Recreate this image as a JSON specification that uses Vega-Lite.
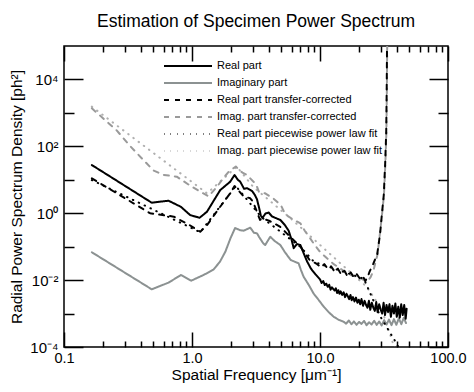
{
  "$schema": "https://vega.github.io/schema/vega-lite/v6.json",
  "width": 384,
  "height": 301,
  "autosize": "none",
  "padding": {"left": 64, "top": 46, "right": 26, "bottom": 45},
  "background": "white",
  "title": {"text": "Estimation of Specimen Power Spectrum", "fontSize": 17.5, "fontWeight": "normal", "color": "#000", "anchor": "middle", "frame": "group", "baseline": "alphabetic", "offset": -1},
  "config": {
    "font": "Liberation Sans",
    "view": {"stroke": "#000", "strokeWidth": 1.5},
    "axis": {"grid": false, "domain": false, "tickColor": "#000", "tickWidth": 1.5, "labelColor": "#000", "titleColor": "#000", "titleFontWeight": "normal", "labelFlush": false, "labelOverlap": false}
  },
  "data": {"values": [
    {"series": "Imag. part piecewise power law fit", "freq": 0.165, "psd": 1535},
    {"series": "Imag. part piecewise power law fit", "freq": 1.31, "psd": 3.94},
    {"series": "Imag. part piecewise power law fit", "freq": 2.24, "psd": 24.6},
    {"series": "Imag. part piecewise power law fit", "freq": 3.0, "psd": 6.2},
    {"series": "Imag. part piecewise power law fit", "freq": 5.9, "psd": 0.7},
    {"series": "Imag. part piecewise power law fit", "freq": 14.4, "psd": 0.032},
    {"series": "Imag. part piecewise power law fit", "freq": 23.2, "psd": 0.0063},
    {"series": "Imag. part piecewise power law fit", "freq": 30.5, "psd": 0.0013},
    {"series": "Imag. part piecewise power law fit", "freq": 38, "psd": 0.0001},
    {"series": "Imag. part piecewise power law fit", "freq": 48, "psd": 0.00001},

    {"series": "Imag. part transfer-corrected", "freq": 0.165, "psd": 1370},
    {"series": "Imag. part transfer-corrected", "freq": 0.258, "psd": 300},
    {"series": "Imag. part transfer-corrected", "freq": 0.33, "psd": 100},
    {"series": "Imag. part transfer-corrected", "freq": 0.42, "psd": 38},
    {"series": "Imag. part transfer-corrected", "freq": 0.5, "psd": 19},
    {"series": "Imag. part transfer-corrected", "freq": 0.6, "psd": 14},
    {"series": "Imag. part transfer-corrected", "freq": 0.76, "psd": 12.4},
    {"series": "Imag. part transfer-corrected", "freq": 0.95, "psd": 7},
    {"series": "Imag. part transfer-corrected", "freq": 1.16, "psd": 4.4},
    {"series": "Imag. part transfer-corrected", "freq": 1.35, "psd": 3.2},
    {"series": "Imag. part transfer-corrected", "freq": 1.57, "psd": 6.2},
    {"series": "Imag. part transfer-corrected", "freq": 1.75, "psd": 11},
    {"series": "Imag. part transfer-corrected", "freq": 1.94, "psd": 17.5},
    {"series": "Imag. part transfer-corrected", "freq": 2.2, "psd": 25},
    {"series": "Imag. part transfer-corrected", "freq": 2.35, "psd": 19},
    {"series": "Imag. part transfer-corrected", "freq": 2.5, "psd": 16},
    {"series": "Imag. part transfer-corrected", "freq": 2.69, "psd": 13.9},
    {"series": "Imag. part transfer-corrected", "freq": 2.85, "psd": 11},
    {"series": "Imag. part transfer-corrected", "freq": 3.05, "psd": 8.5},
    {"series": "Imag. part transfer-corrected", "freq": 3.22, "psd": 6.2},
    {"series": "Imag. part transfer-corrected", "freq": 3.33, "psd": 4.4},
    {"series": "Imag. part transfer-corrected", "freq": 3.55, "psd": 4.0},
    {"series": "Imag. part transfer-corrected", "freq": 3.73, "psd": 3.94},
    {"series": "Imag. part transfer-corrected", "freq": 4.0, "psd": 3.3},
    {"series": "Imag. part transfer-corrected", "freq": 4.3, "psd": 2.8},
    {"series": "Imag. part transfer-corrected", "freq": 4.62, "psd": 2.2},
    {"series": "Imag. part transfer-corrected", "freq": 5.0, "psd": 1.6},
    {"series": "Imag. part transfer-corrected", "freq": 5.3, "psd": 1.0},
    {"series": "Imag. part transfer-corrected", "freq": 5.69, "psd": 0.79},
    {"series": "Imag. part transfer-corrected", "freq": 6.3, "psd": 0.62},
    {"series": "Imag. part transfer-corrected", "freq": 7.03, "psd": 0.5},
    {"series": "Imag. part transfer-corrected", "freq": 7.6, "psd": 0.3},
    {"series": "Imag. part transfer-corrected", "freq": 8.2, "psd": 0.2},
    {"series": "Imag. part transfer-corrected", "freq": 8.9, "psd": 0.126},
    {"series": "Imag. part transfer-corrected", "freq": 10, "psd": 0.07},
    {"series": "Imag. part transfer-corrected", "freq": 11.4, "psd": 0.044},
    {"series": "Imag. part transfer-corrected", "freq": 12.8, "psd": 0.03},
    {"series": "Imag. part transfer-corrected", "freq": 14.4, "psd": 0.022},
    {"series": "Imag. part transfer-corrected", "freq": 16, "psd": 0.017},
    {"series": "Imag. part transfer-corrected", "freq": 17.5, "psd": 0.014},
    {"series": "Imag. part transfer-corrected", "freq": 19.4, "psd": 0.0126},
    {"series": "Imag. part transfer-corrected", "freq": 21, "psd": 0.011},
    {"series": "Imag. part transfer-corrected", "freq": 23.2, "psd": 0.0089},
    {"series": "Imag. part transfer-corrected", "freq": 24.8, "psd": 0.012},
    {"series": "Imag. part transfer-corrected", "freq": 26.2, "psd": 0.02},
    {"series": "Imag. part transfer-corrected", "freq": 28.2, "psd": 0.06},
    {"series": "Imag. part transfer-corrected", "freq": 30.6, "psd": 1.0},
    {"series": "Imag. part transfer-corrected", "freq": 31.6, "psd": 3.5},
    {"series": "Imag. part transfer-corrected", "freq": 32.4, "psd": 30},
    {"series": "Imag. part transfer-corrected", "freq": 33.0, "psd": 250},
    {"series": "Imag. part transfer-corrected", "freq": 33.3, "psd": 5000},
    {"series": "Imag. part transfer-corrected", "freq": 33.5, "psd": 100000},

    {"series": "Imaginary part", "freq": 0.165, "psd": 0.068},
    {"series": "Imaginary part", "freq": 0.485, "psd": 0.0053},
    {"series": "Imaginary part", "freq": 0.655, "psd": 0.0084},
    {"series": "Imaginary part", "freq": 0.82, "psd": 0.0142},
    {"series": "Imaginary part", "freq": 0.986, "psd": 0.0096},
    {"series": "Imaginary part", "freq": 1.23, "psd": 0.0142},
    {"series": "Imaginary part", "freq": 1.47, "psd": 0.0206},
    {"series": "Imaginary part", "freq": 1.65, "psd": 0.035},
    {"series": "Imaginary part", "freq": 1.82, "psd": 0.07},
    {"series": "Imaginary part", "freq": 2.0, "psd": 0.18},
    {"series": "Imaginary part", "freq": 2.17, "psd": 0.36},
    {"series": "Imaginary part", "freq": 2.38, "psd": 0.31},
    {"series": "Imaginary part", "freq": 2.53, "psd": 0.30},
    {"series": "Imaginary part", "freq": 2.85, "psd": 0.37},
    {"series": "Imaginary part", "freq": 3.05, "psd": 0.26},
    {"series": "Imaginary part", "freq": 3.22, "psd": 0.25},
    {"series": "Imaginary part", "freq": 3.33, "psd": 0.2},
    {"series": "Imaginary part", "freq": 3.6, "psd": 0.126},
    {"series": "Imaginary part", "freq": 3.73, "psd": 0.112},
    {"series": "Imaginary part", "freq": 4.09, "psd": 0.198},
    {"series": "Imaginary part", "freq": 4.4, "psd": 0.15},
    {"series": "Imaginary part", "freq": 4.9, "psd": 0.112},
    {"series": "Imaginary part", "freq": 5.3, "psd": 0.07},
    {"series": "Imaginary part", "freq": 5.9, "psd": 0.04},
    {"series": "Imaginary part", "freq": 6.4, "psd": 0.035},
    {"series": "Imaginary part", "freq": 6.8, "psd": 0.032},
    {"series": "Imaginary part", "freq": 7.1, "psd": 0.02},
    {"series": "Imaginary part", "freq": 7.45, "psd": 0.0126},
    {"series": "Imaginary part", "freq": 8.2, "psd": 0.007},
    {"series": "Imaginary part", "freq": 8.9, "psd": 0.004},
    {"series": "Imaginary part", "freq": 9.8, "psd": 0.0025},
    {"series": "Imaginary part", "freq": 10.7, "psd": 0.0016},
    {"series": "Imaginary part", "freq": 11.7, "psd": 0.0011},
    {"series": "Imaginary part", "freq": 12.8, "psd": 0.0008},
    {"series": "Imaginary part", "freq": 14, "psd": 0.00065},
    {"series": "Imaginary part", "freq": 15.3, "psd": 0.00057},
    {"series": "Imaginary part", "freq": 16.0, "psd": 0.0005},
    {"series": "Imaginary part", "freq": 16.8, "psd": 0.00062},
    {"series": "Imaginary part", "freq": 17.6, "psd": 0.00048},
    {"series": "Imaginary part", "freq": 18.4, "psd": 0.00058},
    {"series": "Imaginary part", "freq": 19.3, "psd": 0.00046},
    {"series": "Imaginary part", "freq": 20.2, "psd": 0.00056},
    {"series": "Imaginary part", "freq": 21.1, "psd": 0.00049},
    {"series": "Imaginary part", "freq": 22.1, "psd": 0.0006},
    {"series": "Imaginary part", "freq": 23.1, "psd": 0.00045},
    {"series": "Imaginary part", "freq": 24.2, "psd": 0.00055},
    {"series": "Imaginary part", "freq": 25.3, "psd": 0.00047},
    {"series": "Imaginary part", "freq": 26.5, "psd": 0.00061},
    {"series": "Imaginary part", "freq": 27.7, "psd": 0.00046},
    {"series": "Imaginary part", "freq": 29.0, "psd": 0.00058},
    {"series": "Imaginary part", "freq": 30.3, "psd": 0.00044},
    {"series": "Imaginary part", "freq": 31.7, "psd": 0.00063},
    {"series": "Imaginary part", "freq": 33.1, "psd": 0.00047},
    {"series": "Imaginary part", "freq": 34.6, "psd": 0.00066},
    {"series": "Imaginary part", "freq": 36.2, "psd": 0.00045},
    {"series": "Imaginary part", "freq": 37.8, "psd": 0.00068},
    {"series": "Imaginary part", "freq": 39.5, "psd": 0.00046},
    {"series": "Imaginary part", "freq": 41.3, "psd": 0.00072},
    {"series": "Imaginary part", "freq": 43.2, "psd": 0.00048},
    {"series": "Imaginary part", "freq": 45.1, "psd": 0.00075},
    {"series": "Imaginary part", "freq": 47.0, "psd": 0.00052},

    {"series": "Real part piecewise power law fit", "freq": 0.165, "psd": 9.8},
    {"series": "Real part piecewise power law fit", "freq": 1.16, "psd": 0.27},
    {"series": "Real part piecewise power law fit", "freq": 2.2, "psd": 6.5},
    {"series": "Real part piecewise power law fit", "freq": 3.5, "psd": 0.75},
    {"series": "Real part piecewise power law fit", "freq": 7.0, "psd": 0.1},
    {"series": "Real part piecewise power law fit", "freq": 9.0, "psd": 0.035},
    {"series": "Real part piecewise power law fit", "freq": 22, "psd": 0.011},
    {"series": "Real part piecewise power law fit", "freq": 29.7, "psd": 0.0008},
    {"series": "Real part piecewise power law fit", "freq": 40, "psd": 0.00012},
    {"series": "Real part piecewise power law fit", "freq": 50, "psd": 0.00002},

    {"series": "Real part transfer-corrected", "freq": 0.165, "psd": 11},
    {"series": "Real part transfer-corrected", "freq": 0.47, "psd": 1.0},
    {"series": "Real part transfer-corrected", "freq": 0.72, "psd": 0.79},
    {"series": "Real part transfer-corrected", "freq": 0.95, "psd": 0.45},
    {"series": "Real part transfer-corrected", "freq": 1.16, "psd": 0.28},
    {"series": "Real part transfer-corrected", "freq": 1.31, "psd": 0.44},
    {"series": "Real part transfer-corrected", "freq": 1.66, "psd": 1.56},
    {"series": "Real part transfer-corrected", "freq": 1.99, "psd": 3.94},
    {"series": "Real part transfer-corrected", "freq": 2.15, "psd": 6.5},
    {"series": "Real part transfer-corrected", "freq": 2.53, "psd": 3.2},
    {"series": "Real part transfer-corrected", "freq": 2.85, "psd": 2.8},
    {"series": "Real part transfer-corrected", "freq": 3.0, "psd": 2.2},
    {"series": "Real part transfer-corrected", "freq": 3.4, "psd": 0.63},
    {"series": "Real part transfer-corrected", "freq": 3.52, "psd": 0.7},
    {"series": "Real part transfer-corrected", "freq": 4.0, "psd": 0.6},
    {"series": "Real part transfer-corrected", "freq": 4.9, "psd": 0.39},
    {"series": "Real part transfer-corrected", "freq": 5.5, "psd": 0.25},
    {"series": "Real part transfer-corrected", "freq": 6.23, "psd": 0.157},
    {"series": "Real part transfer-corrected", "freq": 7.03, "psd": 0.1},
    {"series": "Real part transfer-corrected", "freq": 8.3, "psd": 0.04},
    {"series": "Real part transfer-corrected", "freq": 9.5, "psd": 0.03},
    {"series": "Real part transfer-corrected", "freq": 10.2, "psd": 0.024},
    {"series": "Real part transfer-corrected", "freq": 10.8, "psd": 0.03},
    {"series": "Real part transfer-corrected", "freq": 11.5, "psd": 0.022},
    {"series": "Real part transfer-corrected", "freq": 12.2, "psd": 0.026},
    {"series": "Real part transfer-corrected", "freq": 13, "psd": 0.018},
    {"series": "Real part transfer-corrected", "freq": 13.8, "psd": 0.022},
    {"series": "Real part transfer-corrected", "freq": 14.6, "psd": 0.015},
    {"series": "Real part transfer-corrected", "freq": 15.5, "psd": 0.019},
    {"series": "Real part transfer-corrected", "freq": 16.4, "psd": 0.013},
    {"series": "Real part transfer-corrected", "freq": 17.4, "psd": 0.017},
    {"series": "Real part transfer-corrected", "freq": 18.4, "psd": 0.012},
    {"series": "Real part transfer-corrected", "freq": 19.4, "psd": 0.015},
    {"series": "Real part transfer-corrected", "freq": 20.5, "psd": 0.011},
    {"series": "Real part transfer-corrected", "freq": 21.6, "psd": 0.013},
    {"series": "Real part transfer-corrected", "freq": 22.6, "psd": 0.0095},
    {"series": "Real part transfer-corrected", "freq": 23.5, "psd": 0.012},
    {"series": "Real part transfer-corrected", "freq": 24.4, "psd": 0.018},
    {"series": "Real part transfer-corrected", "freq": 26, "psd": 0.03},
    {"series": "Real part transfer-corrected", "freq": 28, "psd": 0.06},
    {"series": "Real part transfer-corrected", "freq": 29.5, "psd": 0.25},
    {"series": "Real part transfer-corrected", "freq": 30.5, "psd": 1.0},
    {"series": "Real part transfer-corrected", "freq": 31.5, "psd": 3.5},
    {"series": "Real part transfer-corrected", "freq": 32.3, "psd": 30},
    {"series": "Real part transfer-corrected", "freq": 32.9, "psd": 250},
    {"series": "Real part transfer-corrected", "freq": 33.2, "psd": 5000},
    {"series": "Real part transfer-corrected", "freq": 33.4, "psd": 100000},

    {"series": "Real part", "freq": 0.165, "psd": 27.6},
    {"series": "Real part", "freq": 0.485, "psd": 2.06},
    {"series": "Real part", "freq": 0.655, "psd": 2.37},
    {"series": "Real part", "freq": 0.82, "psd": 1.55},
    {"series": "Real part", "freq": 0.968, "psd": 0.88},
    {"series": "Real part", "freq": 1.145, "psd": 0.73},
    {"series": "Real part", "freq": 1.31, "psd": 1.11},
    {"series": "Real part", "freq": 1.5, "psd": 2.6},
    {"series": "Real part", "freq": 1.66, "psd": 4.9},
    {"series": "Real part", "freq": 1.99, "psd": 8.8},
    {"series": "Real part", "freq": 2.15, "psd": 13.9},
    {"series": "Real part", "freq": 2.28, "psd": 10},
    {"series": "Real part", "freq": 2.38, "psd": 8.8},
    {"series": "Real part", "freq": 2.55, "psd": 5.4},
    {"series": "Real part", "freq": 2.69, "psd": 5.6},
    {"series": "Real part", "freq": 2.85, "psd": 5.0},
    {"series": "Real part", "freq": 2.95, "psd": 4.6},
    {"series": "Real part", "freq": 3.1, "psd": 3.5},
    {"series": "Real part", "freq": 3.22, "psd": 2.6},
    {"series": "Real part", "freq": 3.35, "psd": 1.4},
    {"series": "Real part", "freq": 3.45, "psd": 0.85},
    {"series": "Real part", "freq": 3.55, "psd": 0.72},
    {"series": "Real part", "freq": 3.75, "psd": 0.98},
    {"series": "Real part", "freq": 3.97, "psd": 1.05},
    {"series": "Real part", "freq": 4.22, "psd": 0.8},
    {"series": "Real part", "freq": 4.5, "psd": 0.72},
    {"series": "Real part", "freq": 4.9, "psd": 0.63},
    {"series": "Real part", "freq": 5.3, "psd": 0.45},
    {"series": "Real part", "freq": 5.69, "psd": 0.3},
    {"series": "Real part", "freq": 6.0, "psd": 0.16},
    {"series": "Real part", "freq": 6.23, "psd": 0.09},
    {"series": "Real part", "freq": 6.6, "psd": 0.12},
    {"series": "Real part", "freq": 7.03, "psd": 0.112},
    {"series": "Real part", "freq": 7.5, "psd": 0.06},
    {"series": "Real part", "freq": 7.93, "psd": 0.036},
    {"series": "Real part", "freq": 8.5, "psd": 0.022},
    {"series": "Real part", "freq": 9.2, "psd": 0.015},
    {"series": "Real part", "freq": 10.0, "psd": 0.0105},
    {"series": "Real part", "freq": 10.3, "psd": 0.0082},
    {"series": "Real part", "freq": 10.6, "psd": 0.0094},
    {"series": "Real part", "freq": 10.9, "psd": 0.0071},
    {"series": "Real part", "freq": 11.2, "psd": 0.0078},
    {"series": "Real part", "freq": 11.5, "psd": 0.0063},
    {"series": "Real part", "freq": 11.8, "psd": 0.0072},
    {"series": "Real part", "freq": 12.1, "psd": 0.0052},
    {"series": "Real part", "freq": 12.4, "psd": 0.0061},
    {"series": "Real part", "freq": 12.7, "psd": 0.0054},
    {"series": "Real part", "freq": 13.0, "psd": 0.0049},
    {"series": "Real part", "freq": 13.3, "psd": 0.0057},
    {"series": "Real part", "freq": 13.6, "psd": 0.0041},
    {"series": "Real part", "freq": 13.9, "psd": 0.005},
    {"series": "Real part", "freq": 14.2, "psd": 0.0039},
    {"series": "Real part", "freq": 14.5, "psd": 0.0046},
    {"series": "Real part", "freq": 14.9, "psd": 0.0036},
    {"series": "Real part", "freq": 15.3, "psd": 0.0043},
    {"series": "Real part", "freq": 15.7, "psd": 0.0031},
    {"series": "Real part", "freq": 16.1, "psd": 0.0039},
    {"series": "Real part", "freq": 16.5, "psd": 0.0033},
    {"series": "Real part", "freq": 16.9, "psd": 0.0027},
    {"series": "Real part", "freq": 17.3, "psd": 0.0036},
    {"series": "Real part", "freq": 17.7, "psd": 0.0025},
    {"series": "Real part", "freq": 18.1, "psd": 0.0031},
    {"series": "Real part", "freq": 18.6, "psd": 0.0023},
    {"series": "Real part", "freq": 19.1, "psd": 0.003},
    {"series": "Real part", "freq": 19.6, "psd": 0.0021},
    {"series": "Real part", "freq": 20.1, "psd": 0.0026},
    {"series": "Real part", "freq": 20.6, "psd": 0.0019},
    {"series": "Real part", "freq": 21.1, "psd": 0.0027},
    {"series": "Real part", "freq": 21.7, "psd": 0.0017},
    {"series": "Real part", "freq": 22.3, "psd": 0.0024},
    {"series": "Real part", "freq": 22.9, "psd": 0.0018},
    {"series": "Real part", "freq": 23.5, "psd": 0.0015},
    {"series": "Real part", "freq": 24.1, "psd": 0.0024},
    {"series": "Real part", "freq": 24.7, "psd": 0.0013},
    {"series": "Real part", "freq": 25.4, "psd": 0.0021},
    {"series": "Real part", "freq": 26.1, "psd": 0.0015},
    {"series": "Real part", "freq": 26.8, "psd": 0.0012},
    {"series": "Real part", "freq": 27.5, "psd": 0.0022},
    {"series": "Real part", "freq": 28.2, "psd": 0.0011},
    {"series": "Real part", "freq": 29.0, "psd": 0.0019},
    {"series": "Real part", "freq": 29.8, "psd": 0.0013},
    {"series": "Real part", "freq": 30.6, "psd": 0.001},
    {"series": "Real part", "freq": 31.4, "psd": 0.0021},
    {"series": "Real part", "freq": 32.2, "psd": 0.0009},
    {"series": "Real part", "freq": 33.1, "psd": 0.0018},
    {"series": "Real part", "freq": 34.0, "psd": 0.0011},
    {"series": "Real part", "freq": 34.9, "psd": 0.0019},
    {"series": "Real part", "freq": 35.8, "psd": 0.0008},
    {"series": "Real part", "freq": 36.8, "psd": 0.0017},
    {"series": "Real part", "freq": 37.8, "psd": 0.001},
    {"series": "Real part", "freq": 38.8, "psd": 0.002},
    {"series": "Real part", "freq": 39.8, "psd": 0.0008},
    {"series": "Real part", "freq": 40.9, "psd": 0.0016},
    {"series": "Real part", "freq": 42.0, "psd": 0.00075},
    {"series": "Real part", "freq": 43.1, "psd": 0.0019},
    {"series": "Real part", "freq": 44.3, "psd": 0.0009},
    {"series": "Real part", "freq": 45.5, "psd": 0.0018},
    {"series": "Real part", "freq": 46.7, "psd": 0.0007},
    {"series": "Real part", "freq": 47.5, "psd": 0.0014}
  ]},
  "layer": [
    {
      "mark": {"type": "line", "clip": true, "strokeCap": "round", "strokeJoin": "round"},
      "encoding": {
        "x": {"field": "freq", "type": "quantitative", "scale": {"type": "log", "domain": [0.1, 100], "nice": false},
          "axis": {"orient": "bottom", "values": [0.1, 1, 10, 100], "format": ".1f", "tickSize": -15, "labelPadding": 19, "labelFontSize": 14.5, "title": "Spatial Frequency [μm⁻¹]", "titleFontSize": 15.5, "titlePadding": 3}},
        "y": {"field": "psd", "type": "quantitative", "scale": {"type": "log", "domain": [0.0001, 100000], "nice": false},
          "axis": {"orient": "left", "values": [0.0001, 0.01, 1, 100, 10000], "labelExpr": "datum.value > 5000 ? '10⁴' : datum.value > 50 ? '10²' : datum.value > 0.5 ? '10⁰' : datum.value > 0.005 ? '10⁻²' : '10⁻⁴'", "tickSize": -19, "labelPadding": 25, "labelFontSize": 15, "title": "Radial Power Spectrum Density [ph²]", "titleFontSize": 15.5, "titlePadding": 5}},
        "color": {"field": "series", "type": "nominal",
          "scale": {"domain": ["Real part", "Imaginary part", "Real part transfer-corrected", "Imag. part transfer-corrected", "Real part piecewise power law fit", "Imag. part piecewise power law fit"],
                    "range": ["#000000", "#8c9292", "#000000", "#9a9a9a", "#000000", "#b0b0b0"]},
          "legend": {"orient": "none", "legendX": 99, "legendY": 13, "title": null, "padding": 0, "symbolType": "M-4,0H4", "symbolSize": 144, "symbolStrokeWidth": 2, "symbolOffset": 18, "labelOffset": 22, "labelFontSize": 11, "labelColor": "#000", "rowPadding": 5, "labelLimit": 300}},
        "strokeDash": {"field": "series", "type": "nominal",
          "scale": {"domain": ["Real part", "Imaginary part", "Real part transfer-corrected", "Imag. part transfer-corrected", "Real part piecewise power law fit", "Imag. part piecewise power law fit"],
                    "range": [[1, 0], [1, 0], [5, 6], [5, 6], [0.5, 6], [0.5, 6]]},
          "legend": {"orient": "none", "legendX": 99, "legendY": 13, "title": null, "padding": 0, "symbolType": "M-4,0H4", "symbolSize": 144, "symbolStrokeWidth": 2, "symbolOffset": 18, "labelOffset": 22, "labelFontSize": 11, "labelColor": "#000", "rowPadding": 5, "labelLimit": 300}},
        "strokeWidth": {"field": "series", "type": "nominal",
          "scale": {"domain": ["Real part", "Imaginary part", "Real part transfer-corrected", "Imag. part transfer-corrected", "Real part piecewise power law fit", "Imag. part piecewise power law fit"],
                    "range": [2, 2, 2.6, 2.3, 2.5, 2.2]},
          "legend": null}
      }
    },
    {
      "mark": {"type": "point", "opacity": 0},
      "encoding": {
        "x": {"field": "freq", "type": "quantitative", "scale": {"type": "log", "domain": [0.1, 100], "nice": false},
          "axis": {"orient": "bottom", "values": [0.2, 0.3, 0.4, 0.5, 0.6, 0.7, 0.8, 0.9, 2, 3, 4, 5, 6, 7, 8, 9, 20, 30, 40, 50, 60, 70, 80, 90], "tickSize": -6, "labels": false, "title": null}},
        "y": {"field": "psd", "type": "quantitative", "scale": {"type": "log", "domain": [0.0001, 100000], "nice": false},
          "axis": {"orient": "left", "values": [0.001, 0.1, 10, 1000], "tickSize": -10, "labels": false, "title": null}}
      }
    },
    {
      "mark": {"type": "point", "opacity": 0},
      "encoding": {
        "x": {"field": "freq", "type": "quantitative", "scale": {"type": "log", "domain": [0.1, 100], "nice": false},
          "axis": {"orient": "top", "values": [0.1, 1, 10, 100], "tickSize": -15, "labels": false, "title": null}},
        "y": {"field": "psd", "type": "quantitative", "scale": {"type": "log", "domain": [0.0001, 100000], "nice": false},
          "axis": {"orient": "right", "values": [0.0001, 0.01, 1, 100, 10000], "tickSize": -19, "labels": false, "title": null}}
      }
    },
    {
      "mark": {"type": "point", "opacity": 0},
      "encoding": {
        "x": {"field": "freq", "type": "quantitative", "scale": {"type": "log", "domain": [0.1, 100], "nice": false},
          "axis": {"orient": "top", "values": [0.2, 0.3, 0.4, 0.5, 0.6, 0.7, 0.8, 0.9, 2, 3, 4, 5, 6, 7, 8, 9, 20, 30, 40, 50, 60, 70, 80, 90], "tickSize": -6, "labels": false, "title": null}},
        "y": {"field": "psd", "type": "quantitative", "scale": {"type": "log", "domain": [0.0001, 100000], "nice": false},
          "axis": {"orient": "right", "values": [0.001, 0.1, 10, 1000], "tickSize": -10, "labels": false, "title": null}}
      }
    }
  ],
  "resolve": {"axis": {"x": "independent", "y": "independent"}}
}
